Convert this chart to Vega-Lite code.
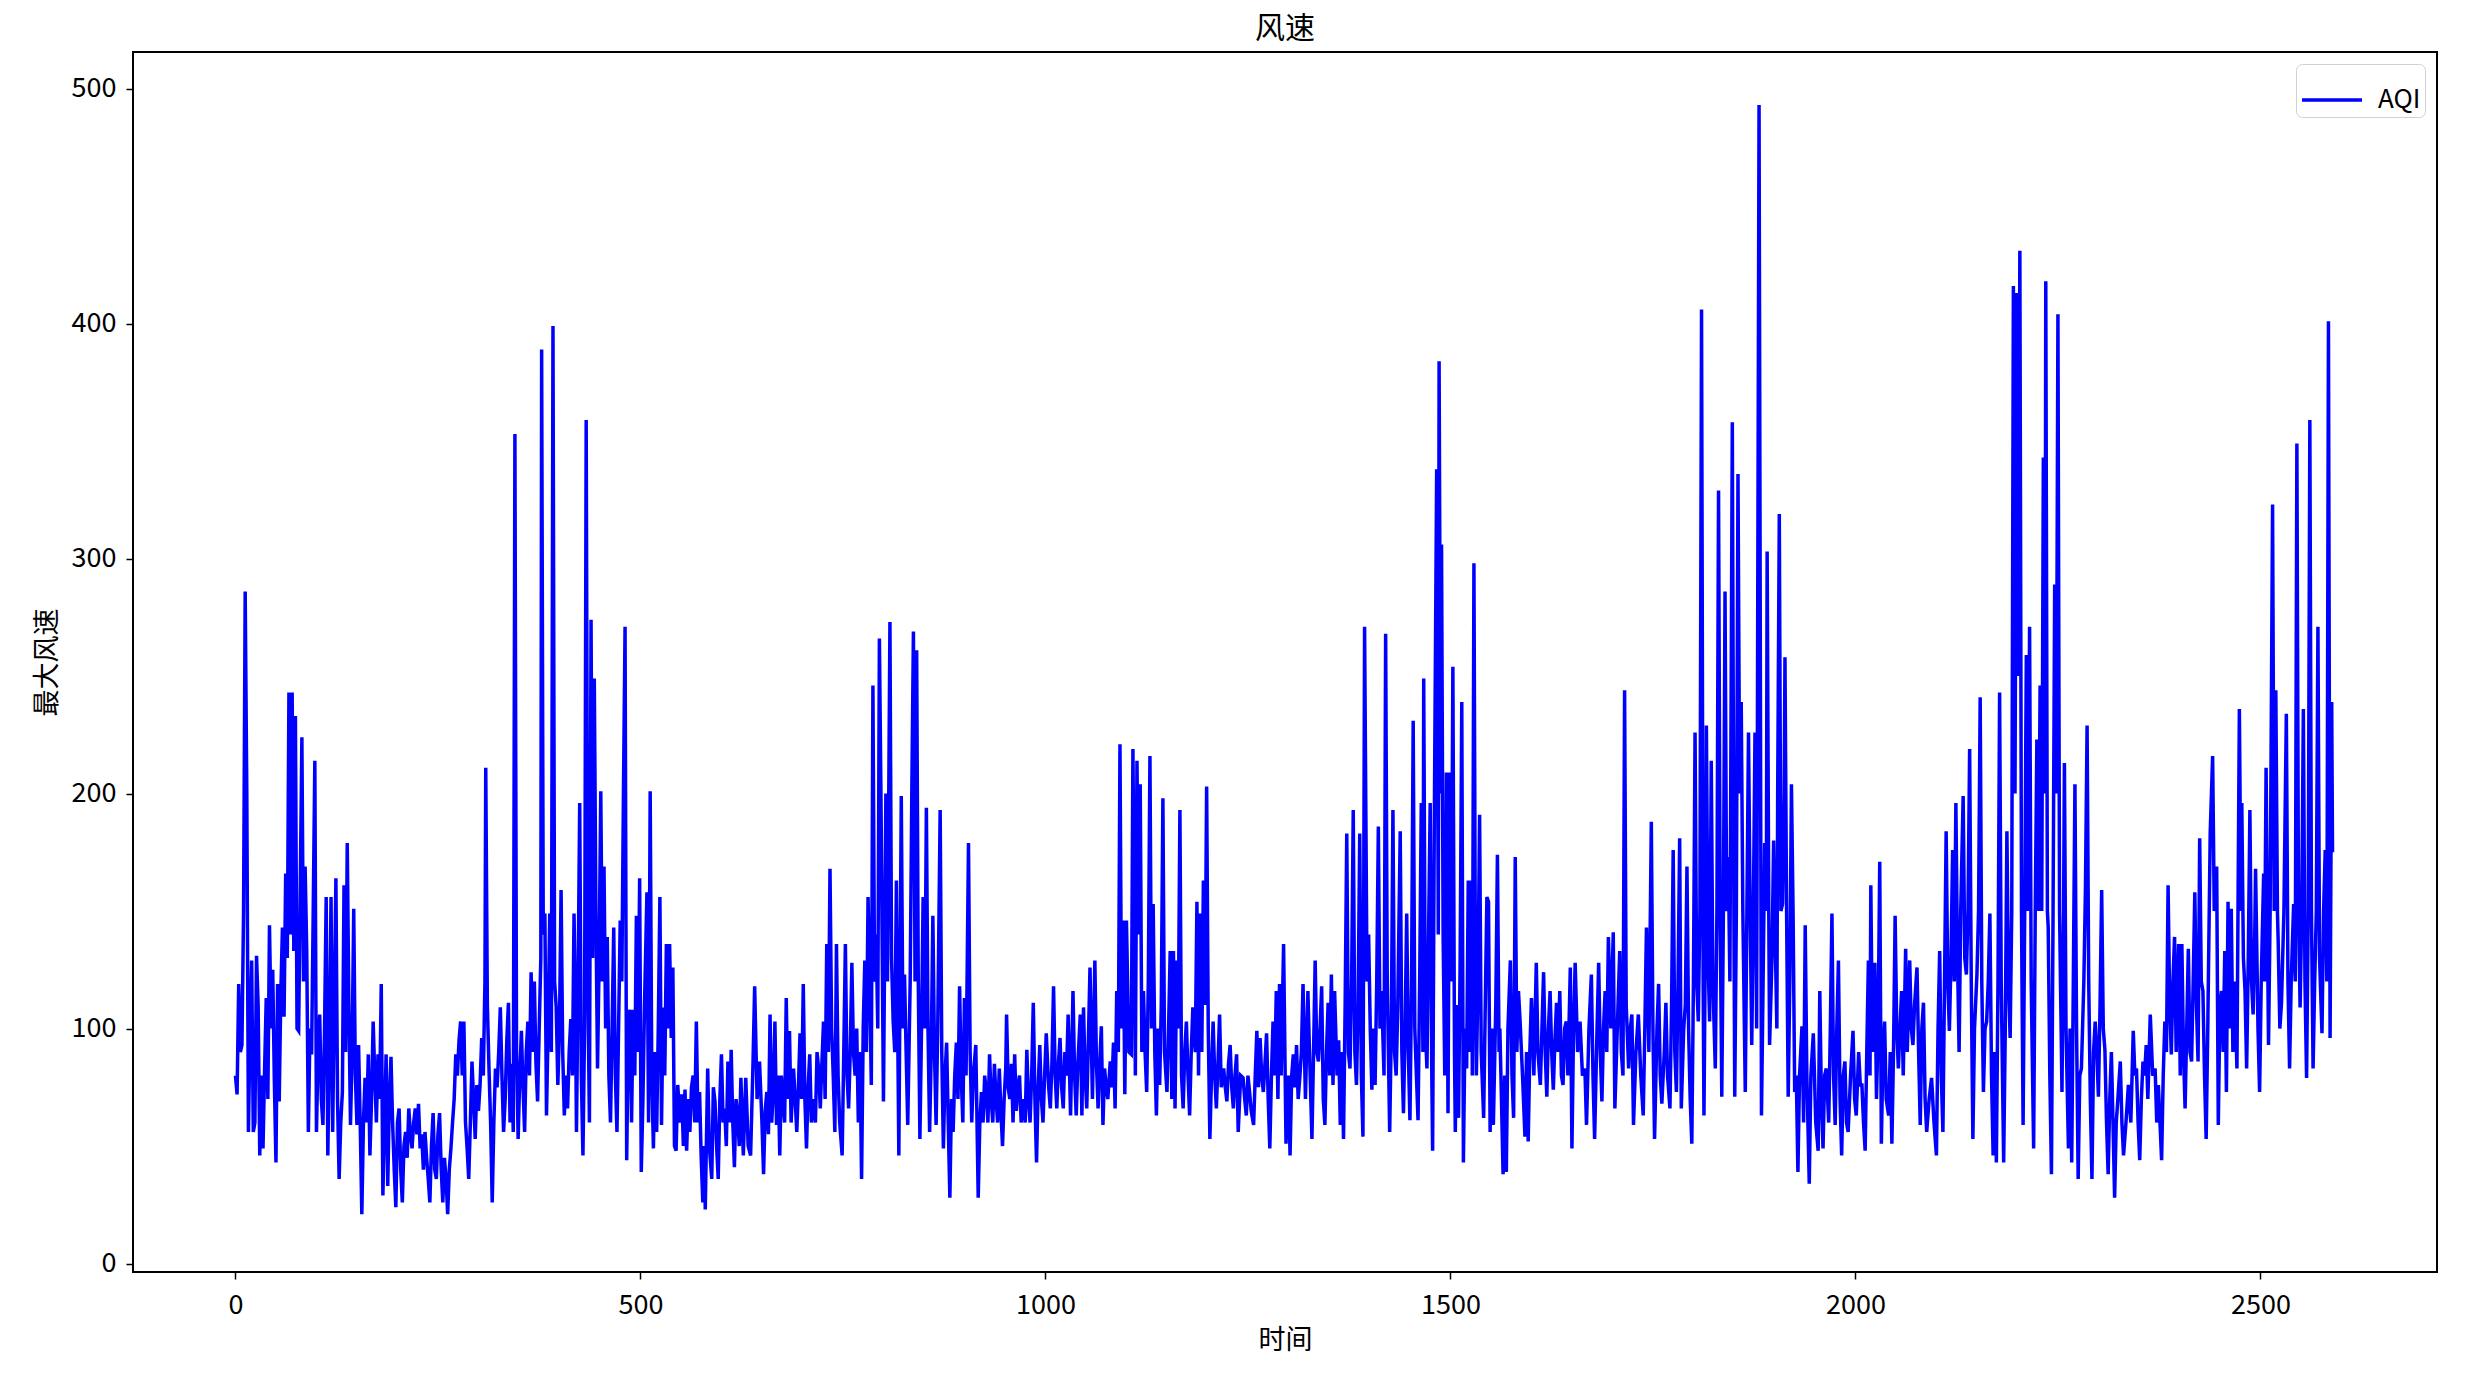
{
"$schema": "https://vega.github.io/schema/vega-lite/v6.json",
"width": 2304, "height": 1220,
"autosize": {"type": "none"},
"padding": {"left": 133, "top": 52, "right": 44, "bottom": 110},
"background": "white",
"title": {"text": "风速", "fontSize": 30, "font": "Noto Sans CJK SC", "fontWeight": "normal", "color": "black", "offset": 8, "anchor": "middle"},
"config": {
 "view": {"stroke": "black", "strokeWidth": 2},
 "axis": {"domain": false, "grid": false, "tickColor": "black", "tickWidth": 1.5, "tickSize": 7, "labelColor": "black", "labelFontSize": 27, "labelFont": "Liberation Sans Narrow, Noto Sans CJK SC", "titleFont": "Noto Sans CJK SC", "titleFontSize": 27, "titleFontWeight": "normal", "titleColor": "black"}
},
"data": {"values": [
{"time":0,"aqi":80},{"time":2,"aqi":72},{"time":4,"aqi":119},{"time":6,"aqi":90},{"time":8,"aqi":93},{"time":10,"aqi":150},{"time":12,"aqi":286},{"time":14,"aqi":200},{"time":16,"aqi":56},{"time":18,"aqi":100},{"time":20,"aqi":129},{"time":22,"aqi":56},{"time":24,"aqi":60},{"time":26,"aqi":131},{"time":28,"aqi":110},{"time":30,"aqi":46},{"time":32,"aqi":80},{"time":34,"aqi":49},{"time":36,"aqi":83},{"time":38,"aqi":113},{"time":40,"aqi":70},{"time":42,"aqi":144},{"time":44,"aqi":100},{"time":46,"aqi":125},{"time":48,"aqi":78},{"time":50,"aqi":43},{"time":52,"aqi":119},{"time":54,"aqi":69},{"time":56,"aqi":115},{"time":58,"aqi":143},{"time":60,"aqi":105},{"time":62,"aqi":166},{"time":64,"aqi":130},{"time":66,"aqi":243},{"time":68,"aqi":140},{"time":70,"aqi":243},{"time":72,"aqi":133},{"time":74,"aqi":233},{"time":76,"aqi":100},{"time":78,"aqi":99},{"time":80,"aqi":160},{"time":82,"aqi":224},{"time":84,"aqi":120},{"time":86,"aqi":169},{"time":88,"aqi":133},{"time":90,"aqi":56},{"time":92,"aqi":100},{"time":94,"aqi":89},{"time":96,"aqi":150},{"time":98,"aqi":214},{"time":100,"aqi":56},{"time":102,"aqi":90},{"time":104,"aqi":106},{"time":106,"aqi":70},{"time":108,"aqi":59},{"time":110,"aqi":100},{"time":112,"aqi":156},{"time":114,"aqi":46},{"time":116,"aqi":90},{"time":118,"aqi":156},{"time":120,"aqi":56},{"time":122,"aqi":110},{"time":124,"aqi":164},{"time":126,"aqi":70},{"time":128,"aqi":36},{"time":130,"aqi":60},{"time":132,"aqi":73},{"time":134,"aqi":161},{"time":136,"aqi":90},{"time":138,"aqi":179},{"time":140,"aqi":110},{"time":142,"aqi":59},{"time":144,"aqi":90},{"time":146,"aqi":151},{"time":148,"aqi":80},{"time":150,"aqi":59},{"time":152,"aqi":93},{"time":154,"aqi":60},{"time":156,"aqi":21},{"time":158,"aqi":60},{"time":160,"aqi":79},{"time":162,"aqi":60},{"time":164,"aqi":89},{"time":166,"aqi":46},{"time":168,"aqi":70},{"time":170,"aqi":103},{"time":172,"aqi":80},{"time":174,"aqi":60},{"time":176,"aqi":89},{"time":178,"aqi":70},{"time":180,"aqi":119},{"time":182,"aqi":29},{"time":184,"aqi":60},{"time":186,"aqi":89},{"time":188,"aqi":33},{"time":190,"aqi":70},{"time":192,"aqi":88},{"time":194,"aqi":60},{"time":196,"aqi":40},{"time":198,"aqi":24},{"time":200,"aqi":60},{"time":202,"aqi":66},{"time":204,"aqi":40},{"time":206,"aqi":26},{"time":208,"aqi":50},{"time":210,"aqi":56},{"time":212,"aqi":45},{"time":214,"aqi":66},{"time":216,"aqi":55},{"time":218,"aqi":49},{"time":220,"aqi":60},{"time":222,"aqi":66},{"time":224,"aqi":55},{"time":226,"aqi":68},{"time":228,"aqi":49},{"time":230,"aqi":55},{"time":232,"aqi":40},{"time":234,"aqi":56},{"time":236,"aqi":45},{"time":238,"aqi":36},{"time":240,"aqi":26},{"time":242,"aqi":50},{"time":244,"aqi":64},{"time":246,"aqi":40},{"time":248,"aqi":36},{"time":250,"aqi":55},{"time":252,"aqi":64},{"time":254,"aqi":40},{"time":256,"aqi":26},{"time":258,"aqi":45},{"time":260,"aqi":36},{"time":262,"aqi":21},{"time":264,"aqi":40},{"time":266,"aqi":49},{"time":268,"aqi":60},{"time":270,"aqi":70},{"time":272,"aqi":89},{"time":274,"aqi":80},{"time":276,"aqi":95},{"time":278,"aqi":103},{"time":280,"aqi":80},{"time":282,"aqi":103},{"time":284,"aqi":60},{"time":286,"aqi":49},{"time":288,"aqi":36},{"time":290,"aqi":60},{"time":292,"aqi":86},{"time":294,"aqi":70},{"time":296,"aqi":53},{"time":298,"aqi":76},{"time":300,"aqi":65},{"time":302,"aqi":76},{"time":304,"aqi":96},{"time":306,"aqi":80},{"time":308,"aqi":120},{"time":309,"aqi":211},{"time":311,"aqi":110},{"time":313,"aqi":83},{"time":315,"aqi":60},{"time":317,"aqi":26},{"time":319,"aqi":60},{"time":321,"aqi":83},{"time":323,"aqi":75},{"time":325,"aqi":90},{"time":327,"aqi":109},{"time":329,"aqi":80},{"time":331,"aqi":56},{"time":333,"aqi":70},{"time":335,"aqi":95},{"time":337,"aqi":111},{"time":339,"aqi":60},{"time":341,"aqi":85},{"time":343,"aqi":56},{"time":345,"aqi":353},{"time":347,"aqi":90},{"time":349,"aqi":53},{"time":351,"aqi":80},{"time":353,"aqi":99},{"time":355,"aqi":75},{"time":357,"aqi":56},{"time":359,"aqi":90},{"time":361,"aqi":103},{"time":363,"aqi":80},{"time":365,"aqi":124},{"time":367,"aqi":90},{"time":369,"aqi":120},{"time":371,"aqi":85},{"time":373,"aqi":69},{"time":375,"aqi":100},{"time":377,"aqi":130},{"time":378,"aqi":389},{"time":380,"aqi":140},{"time":382,"aqi":149},{"time":384,"aqi":63},{"time":386,"aqi":100},{"time":388,"aqi":149},{"time":390,"aqi":90},{"time":392,"aqi":399},{"time":394,"aqi":120},{"time":396,"aqi":109},{"time":398,"aqi":76},{"time":400,"aqi":100},{"time":402,"aqi":159},{"time":404,"aqi":90},{"time":406,"aqi":63},{"time":408,"aqi":80},{"time":410,"aqi":66},{"time":412,"aqi":90},{"time":414,"aqi":104},{"time":416,"aqi":80},{"time":418,"aqi":149},{"time":420,"aqi":100},{"time":421,"aqi":56},{"time":423,"aqi":120},{"time":425,"aqi":196},{"time":427,"aqi":80},{"time":429,"aqi":46},{"time":431,"aqi":100},{"time":433,"aqi":359},{"time":435,"aqi":120},{"time":437,"aqi":60},{"time":439,"aqi":274},{"time":441,"aqi":130},{"time":443,"aqi":249},{"time":445,"aqi":150},{"time":447,"aqi":83},{"time":449,"aqi":130},{"time":451,"aqi":201},{"time":453,"aqi":120},{"time":455,"aqi":169},{"time":457,"aqi":100},{"time":459,"aqi":139},{"time":461,"aqi":80},{"time":463,"aqi":60},{"time":465,"aqi":100},{"time":467,"aqi":143},{"time":469,"aqi":80},{"time":471,"aqi":56},{"time":473,"aqi":100},{"time":475,"aqi":146},
{"time":477,"aqi":120},{"time":479,"aqi":200},{"time":481,"aqi":271},{"time":483,"aqi":44},{"time":485,"aqi":100},{"time":487,"aqi":108},{"time":489,"aqi":60},{"time":491,"aqi":108},{"time":493,"aqi":80},{"time":495,"aqi":148},{"time":497,"aqi":90},{"time":499,"aqi":164},{"time":501,"aqi":39},{"time":503,"aqi":69},{"time":505,"aqi":110},{"time":508,"aqi":158},{"time":510,"aqi":60},{"time":512,"aqi":201},{"time":514,"aqi":80},{"time":516,"aqi":49},{"time":518,"aqi":90},{"time":520,"aqi":56},{"time":522,"aqi":100},{"time":524,"aqi":156},{"time":526,"aqi":59},{"time":528,"aqi":109},{"time":530,"aqi":80},{"time":532,"aqi":136},{"time":534,"aqi":100},{"time":536,"aqi":136},{"time":538,"aqi":96},{"time":540,"aqi":126},{"time":542,"aqi":50},{"time":544,"aqi":48},{"time":546,"aqi":76},{"time":549,"aqi":60},{"time":551,"aqi":72},{"time":553,"aqi":50},{"time":555,"aqi":74},{"time":557,"aqi":48},{"time":559,"aqi":70},{"time":561,"aqi":56},{"time":563,"aqi":75},{"time":565,"aqi":80},{"time":567,"aqi":60},{"time":569,"aqi":103},{"time":571,"aqi":60},{"time":573,"aqi":73},{"time":575,"aqi":45},{"time":577,"aqi":26},{"time":579,"aqi":50},{"time":580,"aqi":23},{"time":583,"aqi":83},{"time":585,"aqi":50},{"time":588,"aqi":36},{"time":590,"aqi":75},{"time":592,"aqi":69},{"time":594,"aqi":50},{"time":596,"aqi":36},{"time":598,"aqi":70},{"time":600,"aqi":89},{"time":602,"aqi":60},{"time":604,"aqi":66},{"time":606,"aqi":50},{"time":608,"aqi":86},{"time":610,"aqi":60},{"time":612,"aqi":91},{"time":614,"aqi":60},{"time":616,"aqi":41},{"time":618,"aqi":70},{"time":620,"aqi":63},{"time":622,"aqi":50},{"time":624,"aqi":79},{"time":627,"aqi":46},{"time":630,"aqi":79},{"time":633,"aqi":50},{"time":636,"aqi":46},{"time":639,"aqi":86},{"time":641,"aqi":118},{"time":644,"aqi":70},{"time":647,"aqi":86},{"time":650,"aqi":60},{"time":652,"aqi":38},{"time":654,"aqi":65},{"time":656,"aqi":73},{"time":658,"aqi":55},{"time":660,"aqi":106},{"time":662,"aqi":60},{"time":664,"aqi":73},{"time":666,"aqi":103},{"time":668,"aqi":59},{"time":670,"aqi":80},{"time":672,"aqi":46},{"time":674,"aqi":80},{"time":676,"aqi":69},{"time":678,"aqi":60},{"time":680,"aqi":113},{"time":682,"aqi":70},{"time":684,"aqi":99},{"time":686,"aqi":60},{"time":689,"aqi":83},{"time":691,"aqi":70},{"time":693,"aqi":56},{"time":695,"aqi":75},{"time":697,"aqi":98},{"time":699,"aqi":70},{"time":701,"aqi":119},{"time":703,"aqi":70},{"time":705,"aqi":49},{"time":707,"aqi":75},{"time":709,"aqi":89},{"time":711,"aqi":60},{"time":713,"aqi":70},{"time":716,"aqi":60},{"time":718,"aqi":90},{"time":720,"aqi":83},{"time":722,"aqi":66},{"time":724,"aqi":85},{"time":726,"aqi":103},{"time":728,"aqi":70},{"time":730,"aqi":136},{"time":732,"aqi":90},{"time":734,"aqi":168},{"time":736,"aqi":100},{"time":738,"aqi":80},{"time":740,"aqi":56},{"time":742,"aqi":136},{"time":744,"aqi":80},{"time":746,"aqi":60},{"time":749,"aqi":46},{"time":751,"aqi":90},{"time":753,"aqi":136},{"time":755,"aqi":80},{"time":757,"aqi":66},{"time":759,"aqi":90},{"time":761,"aqi":128},{"time":763,"aqi":90},{"time":765,"aqi":80},{"time":767,"aqi":100},{"time":769,"aqi":60},{"time":771,"aqi":90},{"time":773,"aqi":36},{"time":775,"aqi":100},{"time":777,"aqi":129},{"time":779,"aqi":90},{"time":781,"aqi":156},{"time":783,"aqi":120},{"time":785,"aqi":76},{"time":787,"aqi":246},{"time":789,"aqi":120},{"time":791,"aqi":140},{"time":793,"aqi":100},{"time":795,"aqi":266},{"time":797,"aqi":196},{"time":800,"aqi":69},{"time":803,"aqi":200},{"time":805,"aqi":120},{"time":808,"aqi":273},{"time":810,"aqi":130},{"time":812,"aqi":103},{"time":814,"aqi":90},{"time":816,"aqi":163},{"time":819,"aqi":46},{"time":822,"aqi":199},{"time":824,"aqi":100},{"time":826,"aqi":123},{"time":828,"aqi":90},{"time":830,"aqi":59},{"time":833,"aqi":120},{"time":835,"aqi":200},{"time":837,"aqi":269},{"time":839,"aqi":120},{"time":841,"aqi":261},{"time":843,"aqi":120},{"time":845,"aqi":53},{"time":847,"aqi":100},{"time":849,"aqi":156},{"time":851,"aqi":100},{"time":853,"aqi":194},{"time":855,"aqi":100},{"time":857,"aqi":56},{"time":859,"aqi":90},{"time":861,"aqi":148},{"time":863,"aqi":90},{"time":865,"aqi":59},{"time":867,"aqi":100},{"time":870,"aqi":193},{"time":872,"aqi":90},{"time":874,"aqi":49},{"time":876,"aqi":80},{"time":878,"aqi":94},{"time":880,"aqi":60},{"time":882,"aqi":28},{"time":884,"aqi":70},{"time":886,"aqi":56},{"time":888,"aqi":80},{"time":890,"aqi":94},{"time":892,"aqi":70},{"time":894,"aqi":118},{"time":896,"aqi":80},{"time":898,"aqi":60},{"time":900,"aqi":113},{"time":902,"aqi":80},{"time":905,"aqi":179},{"time":907,"aqi":90},{"time":909,"aqi":60},{"time":911,"aqi":80},{"time":914,"aqi":93},{"time":917,"aqi":28},{"time":919,"aqi":60},{"time":921,"aqi":73},{"time":923,"aqi":60},{"time":925,"aqi":80},{"time":927,"aqi":73},{"time":929,"aqi":60},{"time":931,"aqi":89},{"time":933,"aqi":70},{"time":935,"aqi":60},{"time":937,"aqi":85},{"time":939,"aqi":70},{"time":941,"aqi":60},{"time":943,"aqi":83},{"time":945,"aqi":65},{"time":947,"aqi":50},{"time":949,"aqi":70},{"time":951,"aqi":83},{"time":952,"aqi":106},{"time":954,"aqi":75},{"time":956,"aqi":70},{"time":958,"aqi":85},{"time":960,"aqi":60},{"time":962,"aqi":89},{"time":964,"aqi":65},{"time":966,"aqi":75},{"time":968,"aqi":80},
{"time":970,"aqi":60},{"time":972,"aqi":70},{"time":975,"aqi":60},{"time":977,"aqi":91},{"time":979,"aqi":70},{"time":981,"aqi":60},{"time":983,"aqi":80},{"time":985,"aqi":111},{"time":987,"aqi":70},{"time":989,"aqi":43},{"time":991,"aqi":75},{"time":993,"aqi":93},{"time":995,"aqi":70},{"time":997,"aqi":60},{"time":999,"aqi":80},{"time":1001,"aqi":98},{"time":1004,"aqi":75},{"time":1006,"aqi":66},{"time":1008,"aqi":85},{"time":1010,"aqi":118},{"time":1012,"aqi":80},{"time":1014,"aqi":66},{"time":1016,"aqi":85},{"time":1018,"aqi":96},{"time":1020,"aqi":75},{"time":1022,"aqi":66},{"time":1024,"aqi":90},{"time":1026,"aqi":80},{"time":1028,"aqi":106},{"time":1031,"aqi":63},{"time":1034,"aqi":116},{"time":1036,"aqi":80},{"time":1038,"aqi":63},{"time":1040,"aqi":85},{"time":1043,"aqi":106},{"time":1045,"aqi":63},{"time":1047,"aqi":109},{"time":1049,"aqi":80},{"time":1051,"aqi":66},{"time":1053,"aqi":95},{"time":1055,"aqi":126},{"time":1058,"aqi":70},{"time":1061,"aqi":129},{"time":1063,"aqi":85},{"time":1065,"aqi":66},{"time":1067,"aqi":85},{"time":1069,"aqi":101},{"time":1071,"aqi":59},{"time":1073,"aqi":83},{"time":1075,"aqi":75},{"time":1077,"aqi":70},{"time":1080,"aqi":86},{"time":1082,"aqi":75},{"time":1084,"aqi":94},{"time":1086,"aqi":66},{"time":1088,"aqi":116},{"time":1090,"aqi":90},{"time":1092,"aqi":221},{"time":1094,"aqi":100},{"time":1096,"aqi":146},{"time":1098,"aqi":72},{"time":1100,"aqi":146},{"time":1103,"aqi":90},{"time":1106,"aqi":89},{"time":1108,"aqi":219},{"time":1111,"aqi":80},{"time":1113,"aqi":214},{"time":1115,"aqi":140},{"time":1117,"aqi":204},{"time":1119,"aqi":90},{"time":1121,"aqi":116},{"time":1123,"aqi":90},{"time":1125,"aqi":73},{"time":1127,"aqi":120},{"time":1129,"aqi":216},{"time":1131,"aqi":100},{"time":1133,"aqi":153},{"time":1135,"aqi":90},{"time":1137,"aqi":63},{"time":1139,"aqi":100},{"time":1141,"aqi":76},{"time":1143,"aqi":110},{"time":1145,"aqi":198},{"time":1147,"aqi":90},{"time":1150,"aqi":73},{"time":1152,"aqi":100},{"time":1154,"aqi":133},{"time":1156,"aqi":70},{"time":1158,"aqi":133},{"time":1160,"aqi":66},{"time":1162,"aqi":129},{"time":1164,"aqi":100},{"time":1166,"aqi":193},{"time":1168,"aqi":80},{"time":1170,"aqi":66},{"time":1172,"aqi":90},{"time":1174,"aqi":103},{"time":1176,"aqi":80},{"time":1178,"aqi":63},{"time":1180,"aqi":90},{"time":1182,"aqi":109},{"time":1185,"aqi":90},{"time":1187,"aqi":154},{"time":1189,"aqi":80},{"time":1191,"aqi":149},{"time":1193,"aqi":90},{"time":1195,"aqi":163},{"time":1197,"aqi":110},{"time":1199,"aqi":203},{"time":1201,"aqi":100},{"time":1203,"aqi":53},{"time":1205,"aqi":80},{"time":1207,"aqi":103},{"time":1209,"aqi":80},{"time":1211,"aqi":66},{"time":1213,"aqi":85},{"time":1215,"aqi":106},{"time":1217,"aqi":75},{"time":1220,"aqi":83},{"time":1222,"aqi":75},{"time":1224,"aqi":69},{"time":1226,"aqi":85},{"time":1228,"aqi":93},{"time":1230,"aqi":75},{"time":1232,"aqi":66},{"time":1234,"aqi":80},{"time":1236,"aqi":89},{"time":1238,"aqi":56},{"time":1241,"aqi":80},{"time":1244,"aqi":79},{"time":1246,"aqi":70},{"time":1248,"aqi":63},{"time":1250,"aqi":80},{"time":1252,"aqi":73},{"time":1254,"aqi":65},{"time":1257,"aqi":59},{"time":1259,"aqi":80},{"time":1261,"aqi":99},{"time":1263,"aqi":75},{"time":1265,"aqi":96},{"time":1267,"aqi":80},{"time":1269,"aqi":73},{"time":1271,"aqi":85},{"time":1273,"aqi":98},{"time":1275,"aqi":70},{"time":1277,"aqi":49},{"time":1279,"aqi":80},{"time":1281,"aqi":103},{"time":1283,"aqi":80},{"time":1285,"aqi":116},{"time":1287,"aqi":70},{"time":1289,"aqi":119},{"time":1291,"aqi":80},{"time":1294,"aqi":136},{"time":1297,"aqi":51},{"time":1300,"aqi":80},{"time":1302,"aqi":46},{"time":1304,"aqi":80},{"time":1306,"aqi":89},{"time":1308,"aqi":75},{"time":1310,"aqi":93},{"time":1312,"aqi":70},{"time":1314,"aqi":79},{"time":1316,"aqi":90},{"time":1318,"aqi":119},{"time":1321,"aqi":70},{"time":1324,"aqi":116},{"time":1326,"aqi":90},{"time":1329,"aqi":53},{"time":1331,"aqi":90},{"time":1333,"aqi":129},{"time":1335,"aqi":90},{"time":1337,"aqi":86},{"time":1339,"aqi":100},{"time":1341,"aqi":118},{"time":1343,"aqi":70},{"time":1345,"aqi":59},{"time":1347,"aqi":90},{"time":1349,"aqi":111},{"time":1351,"aqi":80},{"time":1353,"aqi":123},{"time":1355,"aqi":76},{"time":1357,"aqi":116},{"time":1360,"aqi":80},{"time":1362,"aqi":95},{"time":1364,"aqi":59},{"time":1366,"aqi":90},{"time":1368,"aqi":53},{"time":1370,"aqi":110},{"time":1372,"aqi":183},{"time":1374,"aqi":90},{"time":1376,"aqi":83},{"time":1378,"aqi":120},{"time":1380,"aqi":193},{"time":1382,"aqi":90},{"time":1384,"aqi":76},{"time":1386,"aqi":110},{"time":1388,"aqi":183},{"time":1390,"aqi":80},{"time":1392,"aqi":54},{"time":1394,"aqi":271},{"time":1397,"aqi":120},{"time":1399,"aqi":140},{"time":1401,"aqi":100},{"time":1403,"aqi":74},{"time":1405,"aqi":100},{"time":1407,"aqi":76},{"time":1409,"aqi":120},{"time":1411,"aqi":186},{"time":1413,"aqi":100},{"time":1415,"aqi":116},{"time":1418,"aqi":80},{"time":1420,"aqi":268},{"time":1422,"aqi":120},{"time":1425,"aqi":56},{"time":1427,"aqi":100},{"time":1429,"aqi":193},{"time":1431,"aqi":90},{"time":1433,"aqi":80},{"time":1435,"aqi":110},{"time":1438,"aqi":184},{"time":1440,"aqi":90},{"time":1442,"aqi":64},{"time":1444,"aqi":100},{"time":1446,"aqi":149},{"time":1448,"aqi":90},{"time":1450,"aqi":61},{"time":1452,"aqi":120},{"time":1454,"aqi":231},{"time":1456,"aqi":100},{"time":1458,"aqi":80},{"time":1460,"aqi":61},
{"time":1462,"aqi":120},{"time":1464,"aqi":196},{"time":1466,"aqi":90},{"time":1467,"aqi":249},{"time":1469,"aqi":100},{"time":1471,"aqi":83},{"time":1473,"aqi":140},{"time":1475,"aqi":196},{"time":1477,"aqi":80},{"time":1478,"aqi":48},{"time":1480,"aqi":183},{"time":1483,"aqi":338},{"time":1485,"aqi":140},{"time":1486,"aqi":384},{"time":1488,"aqi":200},{"time":1489,"aqi":306},{"time":1491,"aqi":139},{"time":1493,"aqi":80},{"time":1495,"aqi":209},{"time":1497,"aqi":64},{"time":1499,"aqi":209},{"time":1501,"aqi":120},{"time":1503,"aqi":254},{"time":1505,"aqi":90},{"time":1506,"aqi":56},{"time":1508,"aqi":110},{"time":1510,"aqi":62},{"time":1512,"aqi":130},{"time":1514,"aqi":239},{"time":1516,"aqi":43},{"time":1518,"aqi":100},{"time":1520,"aqi":83},{"time":1522,"aqi":163},{"time":1524,"aqi":90},{"time":1526,"aqi":163},{"time":1527,"aqi":80},{"time":1529,"aqi":298},{"time":1531,"aqi":110},{"time":1532,"aqi":80},{"time":1534,"aqi":120},{"time":1536,"aqi":191},{"time":1538,"aqi":90},{"time":1541,"aqi":62},{"time":1543,"aqi":110},{"time":1545,"aqi":156},{"time":1547,"aqi":154},{"time":1549,"aqi":56},{"time":1551,"aqi":100},{"time":1553,"aqi":59},{"time":1556,"aqi":110},{"time":1558,"aqi":174},{"time":1560,"aqi":90},{"time":1561,"aqi":100},{"time":1563,"aqi":70},{"time":1565,"aqi":38},{"time":1567,"aqi":80},{"time":1569,"aqi":39},{"time":1571,"aqi":100},{"time":1574,"aqi":129},{"time":1576,"aqi":80},{"time":1578,"aqi":62},{"time":1580,"aqi":173},{"time":1582,"aqi":90},{"time":1584,"aqi":116},{"time":1586,"aqi":103},{"time":1589,"aqi":80},{"time":1592,"aqi":54},{"time":1594,"aqi":90},{"time":1596,"aqi":52},{"time":1598,"aqi":90},{"time":1600,"aqi":113},{"time":1603,"aqi":80},{"time":1606,"aqi":128},{"time":1608,"aqi":90},{"time":1611,"aqi":76},{"time":1613,"aqi":100},{"time":1615,"aqi":124},{"time":1617,"aqi":90},{"time":1619,"aqi":71},{"time":1621,"aqi":100},{"time":1623,"aqi":116},{"time":1625,"aqi":90},{"time":1627,"aqi":74},{"time":1629,"aqi":95},{"time":1631,"aqi":111},{"time":1633,"aqi":90},{"time":1635,"aqi":116},{"time":1637,"aqi":80},{"time":1639,"aqi":76},{"time":1641,"aqi":100},{"time":1643,"aqi":103},{"time":1645,"aqi":80},{"time":1648,"aqi":126},{"time":1650,"aqi":49},{"time":1652,"aqi":100},{"time":1654,"aqi":128},{"time":1657,"aqi":90},{"time":1660,"aqi":103},{"time":1663,"aqi":80},{"time":1666,"aqi":83},{"time":1668,"aqi":59},{"time":1671,"aqi":100},{"time":1674,"aqi":123},{"time":1676,"aqi":80},{"time":1678,"aqi":53},{"time":1681,"aqi":100},{"time":1683,"aqi":128},{"time":1685,"aqi":90},{"time":1687,"aqi":69},{"time":1689,"aqi":100},{"time":1691,"aqi":116},{"time":1693,"aqi":90},{"time":1695,"aqi":139},{"time":1698,"aqi":100},{"time":1701,"aqi":141},{"time":1703,"aqi":66},{"time":1706,"aqi":100},{"time":1709,"aqi":133},{"time":1711,"aqi":90},{"time":1713,"aqi":80},{"time":1715,"aqi":244},{"time":1717,"aqi":110},{"time":1720,"aqi":83},{"time":1722,"aqi":100},{"time":1724,"aqi":106},{"time":1726,"aqi":59},{"time":1729,"aqi":90},{"time":1732,"aqi":106},{"time":1735,"aqi":80},{"time":1738,"aqi":63},{"time":1740,"aqi":100},{"time":1742,"aqi":143},{"time":1745,"aqi":90},{"time":1748,"aqi":188},{"time":1750,"aqi":100},{"time":1752,"aqi":53},{"time":1755,"aqi":100},{"time":1757,"aqi":119},{"time":1759,"aqi":80},{"time":1761,"aqi":68},{"time":1764,"aqi":90},{"time":1766,"aqi":111},{"time":1768,"aqi":80},{"time":1771,"aqi":66},{"time":1773,"aqi":110},{"time":1775,"aqi":176},{"time":1777,"aqi":90},{"time":1779,"aqi":73},{"time":1781,"aqi":120},{"time":1783,"aqi":181},{"time":1785,"aqi":66},{"time":1788,"aqi":100},{"time":1790,"aqi":110},{"time":1792,"aqi":169},{"time":1794,"aqi":100},{"time":1796,"aqi":70},{"time":1798,"aqi":51},{"time":1800,"aqi":120},{"time":1802,"aqi":226},{"time":1804,"aqi":120},{"time":1806,"aqi":103},{"time":1808,"aqi":150},{"time":1810,"aqi":406},{"time":1812,"aqi":120},{"time":1813,"aqi":63},{"time":1815,"aqi":150},{"time":1816,"aqi":229},{"time":1818,"aqi":130},{"time":1820,"aqi":103},{"time":1822,"aqi":214},{"time":1824,"aqi":120},{"time":1827,"aqi":83},{"time":1829,"aqi":150},{"time":1831,"aqi":329},{"time":1833,"aqi":150},{"time":1835,"aqi":71},{"time":1837,"aqi":150},{"time":1839,"aqi":286},{"time":1841,"aqi":150},{"time":1843,"aqi":173},{"time":1845,"aqi":120},{"time":1848,"aqi":358},{"time":1850,"aqi":150},{"time":1851,"aqi":71},{"time":1853,"aqi":150},{"time":1855,"aqi":336},{"time":1857,"aqi":200},{"time":1859,"aqi":239},{"time":1861,"aqi":150},{"time":1864,"aqi":73},{"time":1866,"aqi":150},{"time":1868,"aqi":226},{"time":1870,"aqi":150},{"time":1872,"aqi":93},{"time":1874,"aqi":150},{"time":1876,"aqi":226},{"time":1878,"aqi":100},{"time":1881,"aqi":493},{"time":1883,"aqi":200},{"time":1884,"aqi":63},{"time":1886,"aqi":120},{"time":1888,"aqi":179},{"time":1890,"aqi":150},{"time":1891,"aqi":303},{"time":1893,"aqi":150},{"time":1894,"aqi":93},{"time":1897,"aqi":130},{"time":1899,"aqi":180},{"time":1901,"aqi":138},{"time":1903,"aqi":100},{"time":1904,"aqi":200},{"time":1906,"aqi":319},{"time":1908,"aqi":150},{"time":1910,"aqi":153},{"time":1912,"aqi":200},{"time":1913,"aqi":258},{"time":1915,"aqi":150},{"time":1917,"aqi":71},{"time":1919,"aqi":120},{"time":1921,"aqi":204},{"time":1923,"aqi":150},{"time":1925,"aqi":73},{"time":1927,"aqi":80},{"time":1929,"aqi":39},{"time":1931,"aqi":80},{"time":1934,"aqi":101},{"time":1936,"aqi":60},{"time":1938,"aqi":144},{"time":1940,"aqi":80},{"time":1943,"aqi":34},{"time":1945,"aqi":80},{"time":1948,"aqi":98},{"time":1951,"aqi":60},{"time":1954,"aqi":48},
{"time":1956,"aqi":116},{"time":1958,"aqi":70},{"time":1960,"aqi":49},{"time":1962,"aqi":80},{"time":1964,"aqi":83},{"time":1967,"aqi":60},{"time":1969,"aqi":100},{"time":1971,"aqi":149},{"time":1973,"aqi":80},{"time":1975,"aqi":59},{"time":1977,"aqi":100},{"time":1979,"aqi":129},{"time":1981,"aqi":70},{"time":1983,"aqi":46},{"time":1985,"aqi":80},{"time":1987,"aqi":86},{"time":1989,"aqi":60},{"time":1991,"aqi":56},{"time":1994,"aqi":80},{"time":1997,"aqi":99},{"time":1999,"aqi":70},{"time":2001,"aqi":63},{"time":2004,"aqi":90},{"time":2006,"aqi":76},{"time":2008,"aqi":76},{"time":2010,"aqi":60},{"time":2012,"aqi":48},{"time":2014,"aqi":90},{"time":2016,"aqi":129},{"time":2018,"aqi":80},{"time":2019,"aqi":161},{"time":2021,"aqi":90},{"time":2024,"aqi":128},{"time":2026,"aqi":70},{"time":2028,"aqi":100},{"time":2030,"aqi":171},{"time":2032,"aqi":51},{"time":2034,"aqi":90},{"time":2036,"aqi":103},{"time":2038,"aqi":70},{"time":2041,"aqi":63},{"time":2043,"aqi":90},{"time":2045,"aqi":51},{"time":2047,"aqi":90},{"time":2049,"aqi":148},{"time":2051,"aqi":100},{"time":2053,"aqi":83},{"time":2055,"aqi":100},{"time":2057,"aqi":116},{"time":2059,"aqi":80},{"time":2062,"aqi":134},{"time":2064,"aqi":90},{"time":2067,"aqi":129},{"time":2069,"aqi":100},{"time":2071,"aqi":93},{"time":2073,"aqi":110},{"time":2076,"aqi":126},{"time":2078,"aqi":90},{"time":2080,"aqi":59},{"time":2082,"aqi":100},{"time":2084,"aqi":111},{"time":2086,"aqi":70},{"time":2088,"aqi":56},{"time":2091,"aqi":70},{"time":2094,"aqi":79},{"time":2097,"aqi":60},{"time":2100,"aqi":46},{"time":2102,"aqi":100},{"time":2104,"aqi":133},{"time":2106,"aqi":80},{"time":2108,"aqi":56},{"time":2110,"aqi":120},{"time":2112,"aqi":184},{"time":2114,"aqi":120},{"time":2116,"aqi":99},{"time":2118,"aqi":130},{"time":2120,"aqi":176},{"time":2122,"aqi":120},{"time":2124,"aqi":196},{"time":2126,"aqi":130},{"time":2128,"aqi":90},{"time":2130,"aqi":150},{"time":2133,"aqi":199},{"time":2135,"aqi":130},{"time":2137,"aqi":123},{"time":2139,"aqi":150},{"time":2141,"aqi":219},{"time":2143,"aqi":120},{"time":2145,"aqi":53},{"time":2147,"aqi":100},{"time":2150,"aqi":123},{"time":2152,"aqi":150},{"time":2154,"aqi":241},{"time":2156,"aqi":120},{"time":2158,"aqi":73},{"time":2160,"aqi":100},{"time":2162,"aqi":103},{"time":2164,"aqi":120},{"time":2166,"aqi":149},{"time":2168,"aqi":80},{"time":2170,"aqi":46},{"time":2172,"aqi":90},{"time":2174,"aqi":43},{"time":2176,"aqi":120},{"time":2178,"aqi":243},{"time":2180,"aqi":120},{"time":2183,"aqi":43},{"time":2185,"aqi":100},{"time":2187,"aqi":184},{"time":2189,"aqi":120},{"time":2191,"aqi":96},{"time":2193,"aqi":150},{"time":2195,"aqi":416},{"time":2197,"aqi":200},{"time":2199,"aqi":413},{"time":2201,"aqi":250},{"time":2203,"aqi":431},{"time":2205,"aqi":150},{"time":2207,"aqi":59},{"time":2209,"aqi":150},{"time":2211,"aqi":259},{"time":2213,"aqi":150},{"time":2215,"aqi":271},{"time":2217,"aqi":120},{"time":2220,"aqi":49},{"time":2222,"aqi":150},{"time":2224,"aqi":223},{"time":2226,"aqi":150},{"time":2228,"aqi":246},{"time":2230,"aqi":150},{"time":2232,"aqi":343},{"time":2234,"aqi":200},{"time":2235,"aqi":418},{"time":2237,"aqi":150},{"time":2238,"aqi":143},{"time":2240,"aqi":80},{"time":2242,"aqi":38},{"time":2244,"aqi":150},{"time":2246,"aqi":289},{"time":2248,"aqi":200},{"time":2250,"aqi":404},{"time":2252,"aqi":150},{"time":2255,"aqi":73},{"time":2257,"aqi":150},{"time":2258,"aqi":213},{"time":2260,"aqi":100},{"time":2263,"aqi":49},{"time":2265,"aqi":100},{"time":2267,"aqi":43},{"time":2269,"aqi":120},{"time":2271,"aqi":204},{"time":2273,"aqi":100},{"time":2275,"aqi":36},{"time":2277,"aqi":80},{"time":2279,"aqi":83},{"time":2282,"aqi":120},{"time":2284,"aqi":160},{"time":2286,"aqi":229},{"time":2288,"aqi":120},{"time":2290,"aqi":70},{"time":2292,"aqi":36},{"time":2294,"aqi":90},{"time":2296,"aqi":103},{"time":2298,"aqi":90},{"time":2300,"aqi":71},{"time":2302,"aqi":110},{"time":2304,"aqi":159},{"time":2306,"aqi":100},{"time":2308,"aqi":91},{"time":2310,"aqi":60},{"time":2312,"aqi":38},{"time":2314,"aqi":70},{"time":2316,"aqi":90},{"time":2318,"aqi":60},{"time":2320,"aqi":28},{"time":2322,"aqi":60},{"time":2324,"aqi":70},{"time":2327,"aqi":86},{"time":2329,"aqi":60},{"time":2331,"aqi":46},{"time":2334,"aqi":60},{"time":2337,"aqi":76},{"time":2340,"aqi":60},{"time":2343,"aqi":99},{"time":2345,"aqi":80},{"time":2347,"aqi":83},{"time":2349,"aqi":60},{"time":2351,"aqi":44},{"time":2353,"aqi":70},{"time":2355,"aqi":86},{"time":2357,"aqi":80},{"time":2359,"aqi":93},{"time":2361,"aqi":70},{"time":2364,"aqi":106},{"time":2367,"aqi":80},{"time":2370,"aqi":83},{"time":2372,"aqi":60},{"time":2374,"aqi":76},{"time":2376,"aqi":60},{"time":2378,"aqi":44},{"time":2380,"aqi":80},{"time":2382,"aqi":103},{"time":2384,"aqi":90},{"time":2386,"aqi":161},
{"time":2388,"aqi":110},{"time":2390,"aqi":89},{"time":2392,"aqi":120},{"time":2394,"aqi":139},{"time":2396,"aqi":90},{"time":2399,"aqi":136},{"time":2401,"aqi":80},{"time":2403,"aqi":136},{"time":2405,"aqi":90},{"time":2407,"aqi":66},{"time":2409,"aqi":100},{"time":2411,"aqi":134},{"time":2413,"aqi":90},{"time":2415,"aqi":86},{"time":2417,"aqi":120},{"time":2419,"aqi":158},{"time":2421,"aqi":110},{"time":2423,"aqi":86},{"time":2425,"aqi":181},{"time":2427,"aqi":120},{"time":2429,"aqi":116},{"time":2431,"aqi":80},{"time":2433,"aqi":53},{"time":2435,"aqi":100},{"time":2438,"aqi":183},{"time":2441,"aqi":216},{"time":2443,"aqi":150},{"time":2446,"aqi":169},{"time":2448,"aqi":59},{"time":2450,"aqi":110},{"time":2452,"aqi":116},{"time":2454,"aqi":90},{"time":2456,"aqi":133},{"time":2458,"aqi":73},{"time":2460,"aqi":154},{"time":2462,"aqi":100},{"time":2464,"aqi":151},{"time":2466,"aqi":90},{"time":2468,"aqi":120},{"time":2471,"aqi":83},{"time":2474,"aqi":236},{"time":2476,"aqi":150},{"time":2477,"aqi":196},{"time":2479,"aqi":130},{"time":2481,"aqi":116},{"time":2483,"aqi":83},{"time":2485,"aqi":130},{"time":2487,"aqi":193},{"time":2489,"aqi":120},{"time":2491,"aqi":106},{"time":2493,"aqi":140},{"time":2494,"aqi":168},{"time":2497,"aqi":100},{"time":2499,"aqi":73},{"time":2501,"aqi":120},{"time":2504,"aqi":166},{"time":2505,"aqi":120},{"time":2507,"aqi":211},{"time":2509,"aqi":130},{"time":2510,"aqi":93},{"time":2512,"aqi":150},{"time":2515,"aqi":323},{"time":2517,"aqi":150},{"time":2519,"aqi":244},{"time":2521,"aqi":150},{"time":2522,"aqi":136},{"time":2524,"aqi":100},{"time":2526,"aqi":111},{"time":2529,"aqi":150},{"time":2532,"aqi":234},{"time":2534,"aqi":120},{"time":2536,"aqi":83},{"time":2538,"aqi":120},{"time":2541,"aqi":153},{"time":2543,"aqi":120},{"time":2545,"aqi":349},{"time":2547,"aqi":150},{"time":2549,"aqi":109},{"time":2551,"aqi":150},{"time":2553,"aqi":236},{"time":2555,"aqi":120},{"time":2557,"aqi":79},{"time":2559,"aqi":150},{"time":2561,"aqi":359},{"time":2563,"aqi":150},{"time":2565,"aqi":83},{"time":2567,"aqi":120},{"time":2569,"aqi":150},{"time":2571,"aqi":271},{"time":2573,"aqi":130},{"time":2576,"aqi":98},{"time":2578,"aqi":150},{"time":2580,"aqi":176},{"time":2582,"aqi":120},{"time":2584,"aqi":401},{"time":2586,"aqi":96},{"time":2588,"aqi":239},{"time":2589,"aqi":175}
]},
"mark": {"type": "line", "strokeWidth": 3.5, "clip": true},
"encoding": {
 "x": {"field": "time", "type": "quantitative", "scale": {"domain": [-126.5, 2718], "nice": false, "zero": false}, "axis": {"values": [0, 500, 1000, 1500, 2000, 2500], "format": "d", "title": "时间", "labelPadding": 13, "titlePadding": 9}},
 "y": {"field": "aqi", "type": "quantitative", "scale": {"domain": [-3.6, 515.6], "nice": false, "zero": false}, "axis": {"values": [0, 100, 200, 300, 400, 500], "format": "d", "title": "最大风速", "labelPadding": 10, "titlePadding": 10}},
 "color": {"datum": "AQI", "type": "nominal", "scale": {"range": ["#0000ff"]}, "legend": {"title": null, "orient": "top-right", "offset": 12, "fillColor": "white", "strokeColor": "#d0d0d0", "cornerRadius": 6, "padding": 4, "symbolType": "stroke", "symbolSize": 3600, "symbolStrokeWidth": 3.5, "labelFontSize": 26, "labelFont": "Liberation Sans Narrow, Noto Sans CJK SC", "labelColor": "black", "labelOffset": 14}}
}
}
